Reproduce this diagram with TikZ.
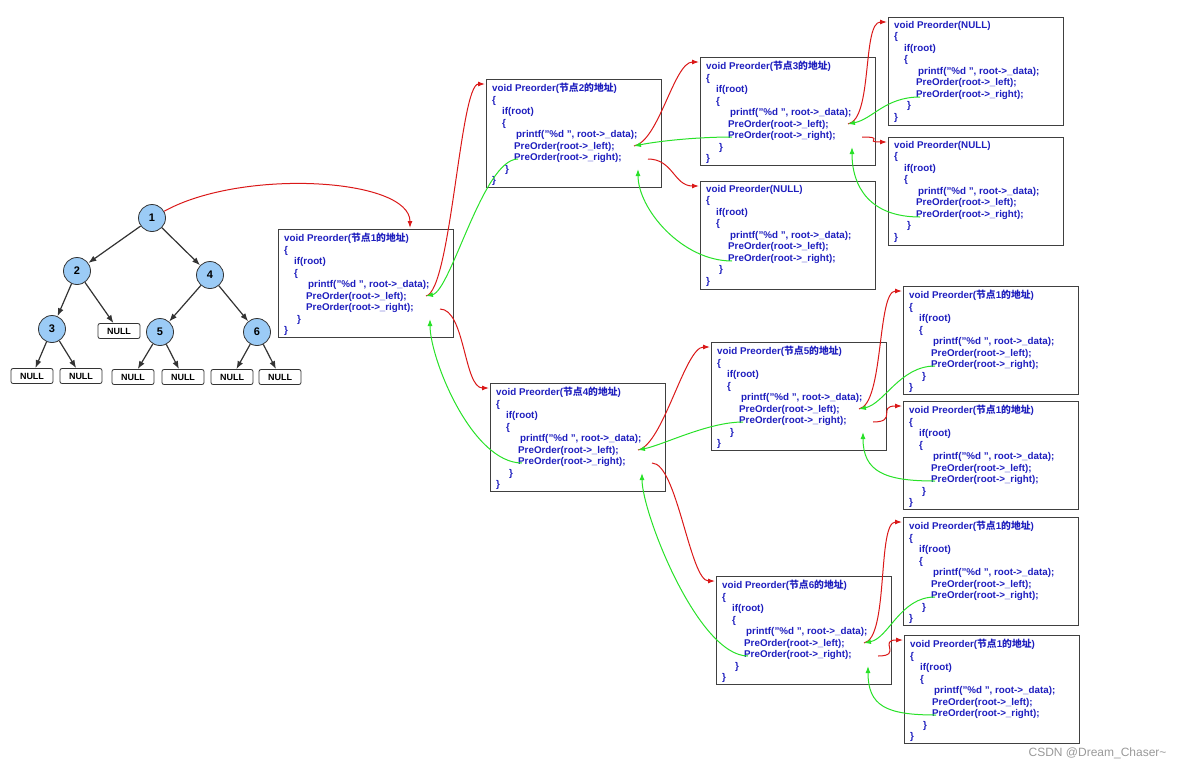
\documentclass[tikz,border=0pt]{standalone}
\usepackage{fontspec}
\setmainfont{Liberation Sans}
\newfontfamily\cjk{Noto Sans CJK SC}
\usetikzlibrary{calc,arrows.meta}
\definecolor{callred}{RGB}{218,24,24}
\definecolor{retgreen}{RGB}{40,225,40}
\definecolor{codeblue}{RGB}{30,30,190}
\definecolor{nodeblue}{RGB}{155,203,246}
\tikzset{
  tnode/.style={circle,draw=black!80,fill=nodeblue,thick,minimum size=27pt,inner sep=0pt,font=\fontsize{11}{11}\selectfont\bfseries},
  tnull/.style={rectangle,rounded corners=2pt,draw=black!80,thick,minimum width=42pt,minimum height=15pt,inner sep=0pt,font=\fontsize{9}{9}\selectfont\bfseries},
  tedge/.style={draw=black!80,line width=1.2pt,-{Latex[length=8pt,width=6pt]}},
  codebox/.style={rectangle,draw=black!75,line width=1.2pt,minimum width=175pt,minimum height=108pt,anchor=north west,inner sep=0pt},
  codetxt/.style={anchor=north west,inner sep=0pt,align=left,text=codeblue,font=\fontsize{9.8}{11.5}\selectfont\bfseries},
  call/.style={draw=callred,line width=1pt,-{Latex[length=7pt,width=5pt]}},
  ret/.style={draw=retgreen,line width=1pt,-{Latex[length=7pt,width=5pt]}}
}
% name, x, y, argument
\newcommand{\codebox}[4]{%
  \node[codebox] (#1) at (#2,#3) {};
  \node[codetxt] (#1-txt) at ($(#1.north west)+(6,4)$) {void Preorder(#4)\\
    \{\\
    \hspace{10pt}if(root)\\
    \hspace{10pt}\{\\
    \hspace{24pt}printf("\%d ", root->\_data);\\
    \hspace{22pt}PreOrder(root->\_left);\\
    \hspace{22pt}PreOrder(root->\_right);\\
    \hspace{13pt}\}\\
    \}};
  \coordinate (#1-l) at ($(#1.north west)+(148,67)$);
  \coordinate (#1-r) at ($(#1.north west)+(162,80)$);
  \coordinate (#1-rs) at ($(#1.north west)+(32,80)$);
  \coordinate (#1-rb) at ($(#1.north west)+(152,90)$);
  \coordinate (#1-in) at ($(#1.north west)+(-1,5)$);
  \coordinate (#1-top) at ($(#1.north west)+(132,-1)$);
}
\begin{document}
\begin{tikzpicture}[x=1pt,y=-1pt]
\useasboundingbox (0,0) rectangle (1183,769);

% tree
\node[tnode] (n1) at (152,218) {1};
\node[tnode] (n2) at (77,271) {2};
\node[tnode] (n4) at (210,275) {4};
\node[tnode] (n3) at (52,329) {3};
\node[tnode] (n5) at (160,332) {5};
\node[tnode] (n6) at (257,332) {6};
\node[tnull] (z2) at (119,331) {NULL};
\node[tnull] (z3a) at (32,376) {NULL};
\node[tnull] (z3b) at (81,376) {NULL};
\node[tnull] (z5a) at (133,377) {NULL};
\node[tnull] (z5b) at (183,377) {NULL};
\node[tnull] (z6a) at (232,377) {NULL};
\node[tnull] (z6b) at (280,377) {NULL};
\draw[tedge] (n1) -- (n2);
\draw[tedge] (n1) -- (n4);
\draw[tedge] (n2) -- (n3);
\draw[tedge] (n2) -- (z2);
\draw[tedge] (n4) -- (n5);
\draw[tedge] (n4) -- (n6);
\draw[tedge] (n3) -- (z3a);
\draw[tedge] (n3) -- (z3b);
\draw[tedge] (n5) -- (z5a);
\draw[tedge] (n5) -- (z5b);
\draw[tedge] (n6) -- (z6a);
\draw[tedge] (n6) -- (z6b);

% code boxes
\codebox{b1}{278}{229}{{\cjk 节点}1{\cjk 的地址}}
\codebox{b2}{486}{79}{{\cjk 节点}2{\cjk 的地址}}
\codebox{b3}{700}{57}{{\cjk 节点}3{\cjk 的地址}}
\codebox{bn1}{888}{17}{NULL}
\codebox{bn2}{888}{137}{NULL}
\codebox{bn3}{700}{181}{NULL}
\codebox{b4}{490}{383}{{\cjk 节点}4{\cjk 的地址}}
\codebox{b5}{711}{342}{{\cjk 节点}5{\cjk 的地址}}
\codebox{b5a}{903}{286}{{\cjk 节点}1{\cjk 的地址}}
\codebox{b5b}{903}{401}{{\cjk 节点}1{\cjk 的地址}}
\codebox{b6}{716}{576}{{\cjk 节点}6{\cjk 的地址}}
\codebox{b6a}{903}{517}{{\cjk 节点}1{\cjk 的地址}}
\codebox{b6b}{904}{635}{{\cjk 节点}1{\cjk 的地址}}

% calls
\draw[call] (n1) .. controls +(90,-50) and +(0,-50) .. (b1-top);
\foreach \a/\b in {b1/b2,b2/b3,b3/bn1,b4/b5,b5/b5a,b6/b6a}
  \draw[call] (\a-l) .. controls +(25,-5) and +(-25,0) .. (\b-in);
\foreach \a/\b in {b1/b4,b2/bn3,b3/bn2,b4/b6,b5/b5b,b6/b6b}
  \draw[call] (\a-r) .. controls +(25,0) and +(-25,0) .. (\b-in);

% returns
\foreach \a/\b in {b2/b1,b3/b2,bn1/b3,b5/b4,b5a/b5,b6a/b6}
  \draw[ret] (\a-rs) .. controls +(-35,0) and +(25,-5) .. (\b-l);
\foreach \a/\b in {b4/b1,bn3/b2,bn2/b3,b6/b4,b5b/b5,b6b/b6}
  \draw[ret] (\a-rs) .. controls +(-50,0) and +(0,40) .. (\b-rb);

\node[text=black!40,anchor=south east,font=\fontsize{12}{12}\selectfont] (mark) at (1170,762) {CSDN @Dream\_Chaser\textasciitilde};
\end{tikzpicture}
\end{document}
